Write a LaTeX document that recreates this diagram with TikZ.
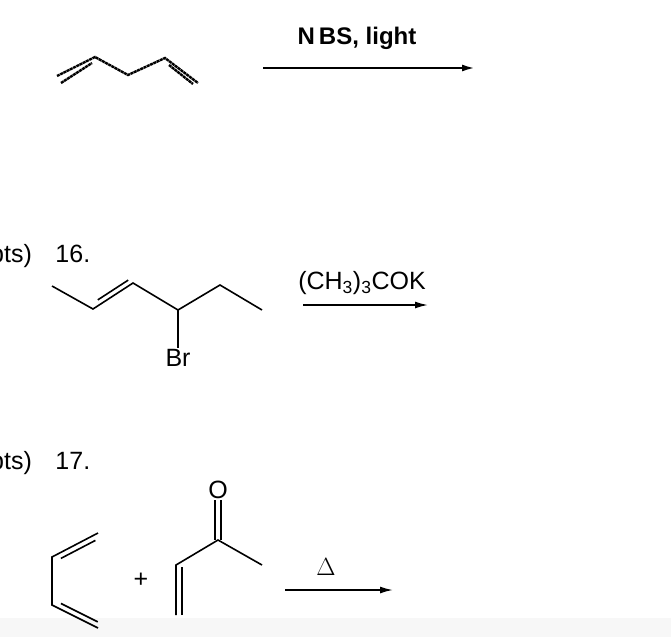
\documentclass[tikz,border=0pt]{standalone}
\usepackage{fontspec}
\setmainfont{Liberation Sans}
\usetikzlibrary{arrows.meta,calc}
\begin{document}
\begin{tikzpicture}[x=1pt,y=-1pt,
  bond/.style={line width=1.6pt},
  rxn/.style={line width=1.6pt,-{Latex[length=13pt,width=7pt]}},
  lbl/.style={inner sep=1pt,font=\fontsize{25}{26}\selectfont}]
\useasboundingbox (0,0) rectangle (671,637);
\fill[gray!6] (0,618) rectangle (671,637);
% top
\coordinate (a1) at (57,76); \coordinate (a2) at (95,57); \coordinate (a3) at (128,75);
\coordinate (a4) at (165,58); \coordinate (a5) at (198,83);
\draw[bond,line width=2.4pt,dash pattern=on 3pt off 0.6pt] (a1)--(a2)--(a3)--(a4)--(a5);
\draw[bond,line width=2.4pt,dash pattern=on 3pt off 0.6pt] ($(a1)+(4,7)$) -- ($(a2)+(-3,6)$);
\draw[bond,line width=2.4pt,dash pattern=on 3pt off 0.6pt] ($(a4)+(4,7)$) -- ($(a5)+(-5,1)$);
\coordinate (t1) at (263,68); \coordinate (t2) at (475,68);
\draw[rxn,line width=2.2pt] (t1)--(t2);
\node[lbl,font=\fontsize{24}{24}\selectfont\bfseries] (tl) at (357,38) {N\,BS, light};
% 16
\node[lbl,anchor=west] (p16) at (-11,256) {pts)\enspace\, 16.};
\coordinate (b1) at (52,286); \coordinate (b2) at (93,309); \coordinate (b3) at (133,283);
\coordinate (b4) at (178,310); \coordinate (b5) at (220,285); \coordinate (b6) at (262,310);
\draw[bond] (b1)--(b2)--(b3)--(b4)--(b5)--(b6);
\draw[bond] ($(b2)!0.12!(b3)+(0,-6)$) -- ($(b2)!0.88!(b3)+(0,-6)$);
\node[lbl] (br) at (178,358) {Br};
\draw[bond] (b4)--(br.north);
\coordinate (m1) at (303,305); \coordinate (m2) at (428,305);
\draw[rxn] (m1)--(m2);
\node[lbl] (ml) at (362,283) {(CH\textsubscript{3})\textsubscript{3}COK};
% 17
\node[lbl,anchor=west] (p17) at (-11,463) {pts)\enspace\, 17.};
\coordinate (c1) at (98,533); \coordinate (c2) at (52,557); \coordinate (c3) at (52,605); \coordinate (c4) at (98,628);
\draw[bond] (c1)--(c2)--(c3)--(c4);
\draw[bond] ($(c1)!0.1!(c2)+(2,5)$) -- ($(c1)!0.85!(c2)+(2,5)$);
\draw[bond] ($(c3)!0.15!(c4)+(2,-5)$) -- ($(c3)!0.95!(c4)+(2,-5)$);
\node[lbl] (plus) at (141,580) {+};
\coordinate (d1) at (176,615); \coordinate (d2) at (176,565); \coordinate (d3) at (218,540); \coordinate (d4) at (262,565);
\node[lbl] (ox) at (218,490) {O};
\draw[bond] (d1)--(d2)--(d3)--(d4);
\draw[bond] ($(d1)+(6,0)$) -- ($(d2)+(6,2)$);
\draw[bond] ($(d3)+(-3,0)$) -- ($(ox.south)+(-3,0)$);
\draw[bond] ($(d3)+(3,0)$) -- ($(ox.south)+(3,0)$);
\coordinate (e1) at (285,590); \coordinate (e2) at (393,590);
\draw[rxn] (e1)--(e2);
\node[lbl] (dl) at (326,567) {$\Delta$};
\end{tikzpicture}
\end{document}
